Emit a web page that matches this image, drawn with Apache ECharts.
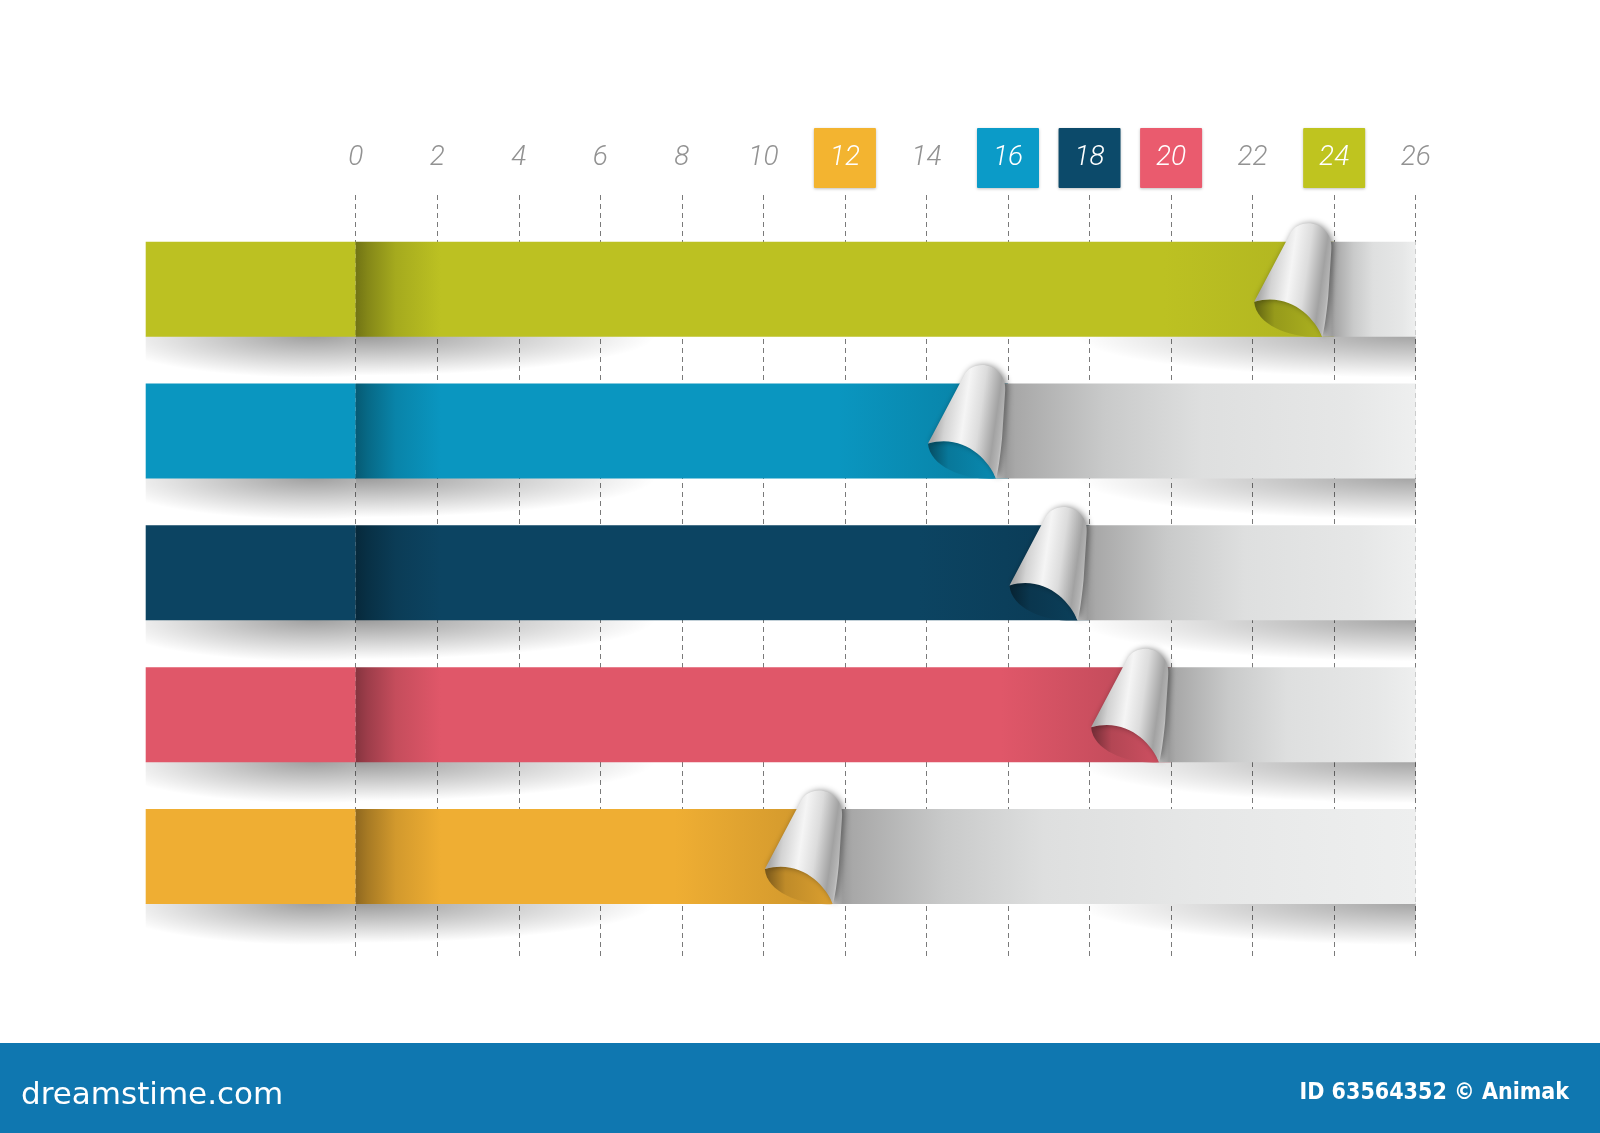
<!DOCTYPE html>
<html><head><meta charset="utf-8">
<script src="https://cdn.jsdelivr.net/npm/echarts@6/dist/echarts.min.js"></script>
<style>html,body{margin:0;padding:0;background:#fff}#c{width:1600px;height:1133px}</style>
</head><body><div id="c"></div>
<script>
// ---- data ----
const categories = ['Row 1', 'Row 2', 'Row 3', 'Row 4', 'Row 5'];
const values = [24, 16, 18, 20, 12];
const axisMin = 0, axisMax = 26, axisStep = 2;
const footerLeft = 'dreamstime.com';
const footerRight = 'ID 63564352 \u00A9 Animak';

// ---- styles ----
const barColors = ['#bcc122', '#0a96c0', '#0c4462', '#e05769', '#efae33'];
const boxColors = ['#bfc41f', '#0b9bc8', '#0c4a6a', '#ea5b6e', '#f3b430'];
const endShade = [0.93, 0.84, 0.86, 0.82, 0.84];

function shade(hex, f) {
  const n = parseInt(hex.slice(1), 16);
  const r = (n >> 16) & 255, g = (n >> 8) & 255, b = n & 255;
  return 'rgb(' + Math.round(r * f) + ',' + Math.round(g * f) + ',' + Math.round(b * f) + ')';
}
function softShadow(xL, xR, yTop, hh, cx, a) {
  const s = (xR - xL) / hh;
  return {
    type: 'rect', x: xL, y: yTop, scaleX: s, scaleY: 1, silent: true,
    shape: { x: 0, y: 0, width: hh, height: hh },
    style: { fill: { type: 'radial', x: cx, y: 0, r: 1, colorStops: [
      { offset: 0, color: 'rgba(0,0,0,' + a + ')' },
      { offset: 0.5, color: 'rgba(0,0,0,' + (a * 0.5).toFixed(3) + ')' },
      { offset: 1, color: 'rgba(0,0,0,0)' }] } }
  };
}

function renderRibbon(params, api) {
  const i = params.dataIndex;
  const v = api.value(0), c = api.value(1);
  const pEnd = api.coord([v, c]);
  const pStart = api.coord([axisMin, c]);
  const pFull = api.coord([axisMax, c]);
  const bandH = api.size([0, 1])[1];
  const h = bandH * 0.67;
  const yt = pEnd[1] - h / 2, yb = yt + h;
  const x0 = pStart[0], xe = pEnd[0], xf = pFull[0];
  const STUB = 210;
  const xs = x0 - STUB;
  const col = barColors[i];
  const sy = h / 95;
  const P = (dx, dy) => (xe + dx).toFixed(1) + ' ' + (yt + dy * sy).toFixed(1);

  const wm = xe - x0;
  const mainFill = { type: 'linear', x: x0, y: 0, x2: xe, y2: 0, global: true, colorStops: [
    { offset: 0, color: shade(col, 0.6) },
    { offset: 12 / wm, color: shade(col, 0.7) },
    { offset: 40 / wm, color: shade(col, 0.88) },
    { offset: 85 / wm, color: col },
    { offset: (wm - 170) / wm, color: col },
    { offset: 1, color: shade(col, endShade[i]) }] };

  const xg = xe - 14, wg = xf - xg;
  const k = Math.min(1, (xf - xe) / 420);
  const greyFill = { type: 'linear', x: xg, y: 0, x2: xf, y2: 0, global: true, colorStops: [
    { offset: 0, color: '#c8c8c8' },
    { offset: 12 / wg, color: '#9c9c9c' },
    { offset: (14 + 8 * k) / wg, color: '#a8a8a8' },
    { offset: (14 + 100 * k) / wg, color: '#c9caca' },
    { offset: (14 + 200 * k) / wg, color: '#dedfdf' },
    { offset: (14 + 350 * k) / wg, color: '#e6e7e7' },
    { offset: 1, color: '#eeefef' }] };

  const curlPath = 'M ' + P(-80, 60) + ' L ' + P(-44, -8) +
    ' C ' + P(-38, -20) + ' ' + P(-20, -22) + ' ' + P(-10, -12) +
    ' C ' + P(-4, -6) + ' ' + P(-2, 0) + ' ' + P(-3, 10) +
    ' L ' + P(-6, 55) +
    ' C ' + P(-8, 75) + ' ' + P(-10, 88) + ' ' + P(-12, 95) +
    ' C ' + P(-20, 75) + ' ' + P(-45, 50) + ' ' + P(-80, 60) + ' Z';
  const lensPath = 'M ' + P(-80, 60) +
    ' C ' + P(-45, 50) + ' ' + P(-20, 75) + ' ' + P(-12, 95) +
    ' C ' + P(-40, 97) + ' ' + P(-78, 85) + ' ' + P(-80, 60) + ' Z';

  return {
    type: 'group',
    children: [
      softShadow(xs, x0, yb - 1, 42, 0.8, 0.38),
      softShadow(x0, x0 + 300, yb - 1, 40, 0, 0.4),
      softShadow(xf - 340, xf, yb - 1, 42, 1, 0.36),
      { type: 'rect', shape: { x: xs, y: yt, width: STUB, height: h }, style: { fill: col } },
      { type: 'rect', shape: { x: x0, y: yt, width: wm, height: h }, style: { fill: mainFill } },
      { type: 'rect', shape: { x: xg, y: yt, width: wg, height: h }, style: { fill: greyFill } },
      { type: 'path', shape: { pathData: lensPath }, style: { fill: { type: 'linear', x: xe - 80, y: 0, x2: xe - 12, y2: 0, global: true, colorStops: [
        { offset: 0, color: shade(col, 0.5) }, { offset: 0.3, color: shade(col, 0.8) }, { offset: 1, color: shade(col, 0.92) }] } } },
      { type: 'path', shape: { pathData: curlPath }, style: {
        fill: { type: 'linear', x: xe - 72, y: yt + 30, x2: xe - 2, y2: yt + 40, global: true, colorStops: [
          { offset: 0, color: '#a9a9a9' }, { offset: 0.15, color: '#d3d3d3' }, { offset: 0.4, color: '#f5f5f5' },
          { offset: 0.62, color: '#dcdcdc' }, { offset: 0.85, color: '#a2a2a2' }, { offset: 0.95, color: '#b5b5b5' }, { offset: 1, color: '#d0d0d0' }] },
        shadowBlur: 6, shadowColor: 'rgba(0,0,0,0.45)', shadowOffsetX: 2 } }
    ]
  };
}

const labelFont = { fontFamily: 'Roboto', fontStyle: 'italic', fontWeight: 300, fontSize: 28 };
const rich = { n: Object.assign({ color: '#929292', lineHeight: 60, height: 60, align: 'center', verticalAlign: 'middle' }, labelFont) };
values.forEach((v, i) => {
  rich['b' + i] = Object.assign({
    color: '#ffffff', backgroundColor: boxColors[i], width: 62, height: 60, lineHeight: 60,
    align: 'center', verticalAlign: 'middle', borderRadius: 1,
    shadowColor: 'rgba(0,0,0,0.25)', shadowBlur: 3, shadowOffsetY: 1
  }, labelFont);
});

const chart = echarts.init(document.getElementById('c'), null, { renderer: 'canvas' });
chart.setOption({
  backgroundColor: '#ffffff',
  animation: false,
  grid: [
    { left: 355.7, right: 184.3, top: 195, bottom: 176 },
    { left: 355.7, right: 184.3, top: 218.3, bottom: 205.6 }
  ],
  xAxis: [
    { gridIndex: 0, type: 'value', position: 'top', min: axisMin, max: axisMax, interval: axisStep,
      axisLine: { show: false }, axisTick: { show: false },
      splitLine: { show: true, lineStyle: { color: '#7a7a7a', width: 1, type: [5, 4] } },
      axisLabel: { show: true, margin: 37, verticalAlign: 'middle', showMinLabel: true, showMaxLabel: true,
        formatter: (val) => { const idx = values.indexOf(val); return idx >= 0 ? '{b' + idx + '|' + val + '}' : '{n|' + val + '}'; },
        rich: rich } },
    { gridIndex: 1, type: 'value', min: axisMin, max: axisMax, interval: axisStep, show: false }
  ],
  yAxis: [
    { gridIndex: 0, type: 'value', show: false, splitLine: { show: false } },
    { gridIndex: 1, type: 'category', data: categories, inverse: true, show: false }
  ],
  series: [{
    type: 'custom', xAxisIndex: 1, yAxisIndex: 1, clip: false,
    renderItem: renderRibbon,
    encode: { x: 0, y: 1 },
    data: values.map((v, i) => [v, i])
  }],
  graphic: [
    { type: 'rect', left: 0, top: 1043, shape: { width: 1600, height: 90 }, style: { fill: '#0f77b0' }, silent: true },
    { type: 'text', left: 21, top: 1080, style: { text: footerLeft, fill: '#ffffff', font: '31px "DejaVu Sans"' } },
    { type: 'text', right: 31, top: 1082, style: { text: footerRight, fill: '#ffffff', font: 'bold 23px "DejaVu Sans Condensed", "Liberation Sans Narrow", "Liberation Sans", sans-serif' } }
  ]
});
</script></body></html>
